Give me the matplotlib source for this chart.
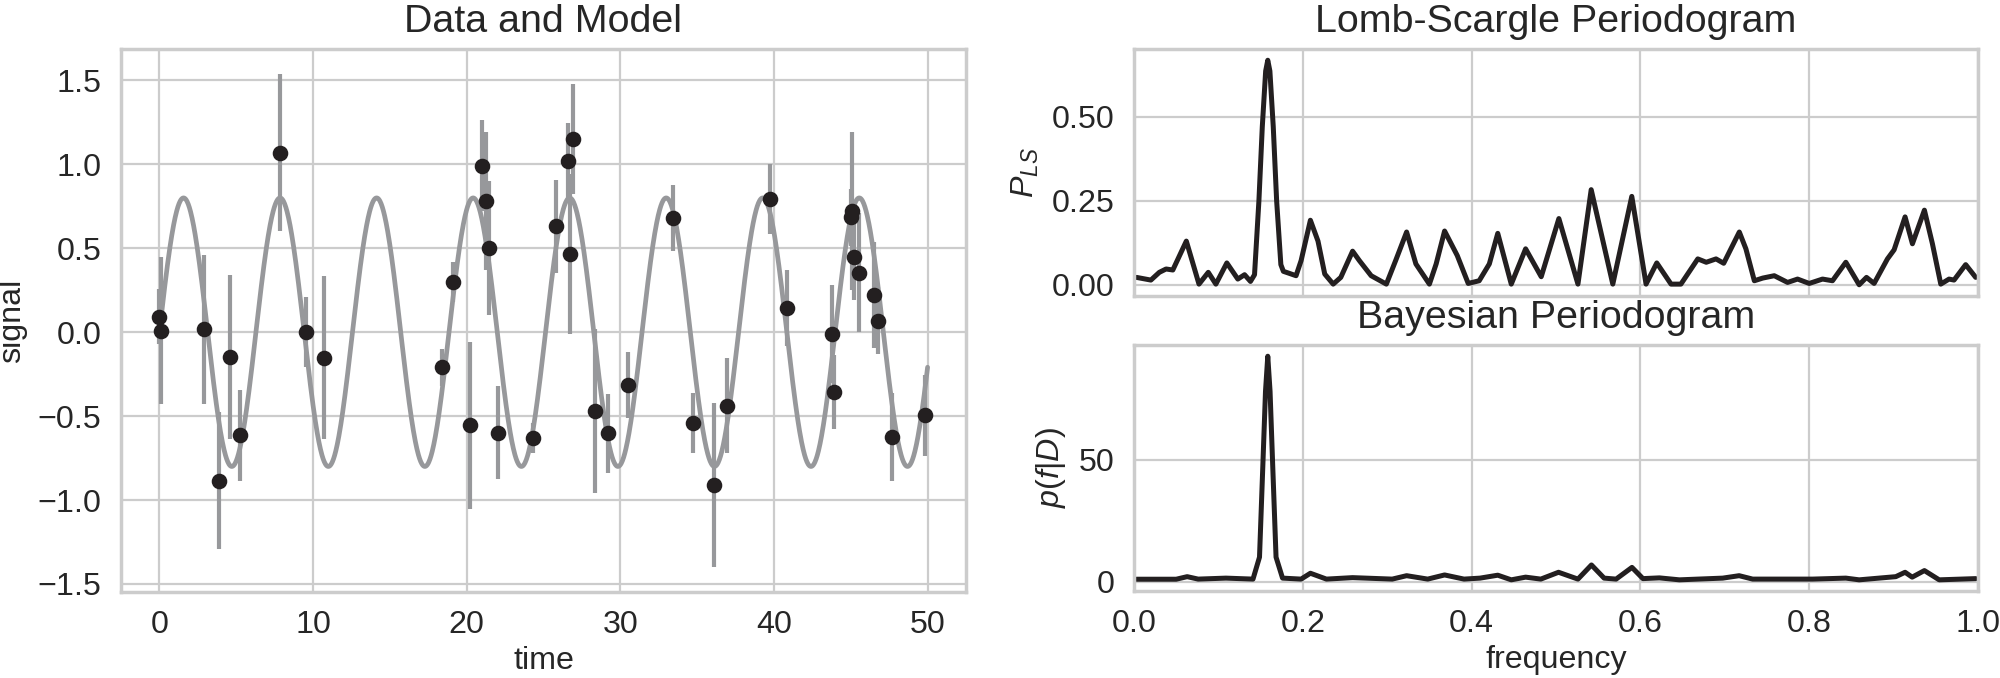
import numpy as np
import matplotlib
matplotlib.use("Agg")
import matplotlib.pyplot as plt
import seaborn as sns

sns.set_style("whitegrid")
plt.rcParams['font.family'] = ['Liberation Sans', 'DejaVu Sans']
plt.rcParams['mathtext.fontset'] = 'custom'
plt.rcParams['mathtext.rm'] = 'Liberation Sans'
plt.rcParams['mathtext.it'] = 'Liberation Sans:italic'

# ---------------- data ----------------
time = [0.0, 0.09, 2.91, 3.87, 4.59, 5.26, 7.83, 9.52, 10.74,
        18.37, 19.09, 20.22, 21.0, 21.26, 21.46, 22.02, 24.3,
        25.83, 26.61, 26.74, 26.89, 28.37, 29.2, 30.52, 33.43,
        34.7, 36.07, 36.96, 39.76, 40.85, 43.8, 43.88, 44.99,
        45.08, 45.23, 45.51, 46.49, 46.79, 47.68, 49.8]
signal = [0.093, 0.01, 0.017, -0.884, -0.148, -0.614, 1.070, 0.0, -0.151,
          -0.209, 0.30, -0.554, 0.992, 0.781, 0.502, -0.599, -0.632,
          0.630, 1.017, 0.465, 1.151, -0.471, -0.603, -0.316, 0.680,
          -0.541, -0.911, -0.438, 0.795, 0.145, -0.01, -0.355, 0.686,
          0.723, 0.45, 0.355, 0.221, 0.068, -0.624, -0.496]
signal_err = [0.165, 0.438, 0.445, 0.41, 0.49, 0.27, 0.47, 0.208, 0.486,
              0.11, 0.12, 0.498, 0.27, 0.41, 0.40, 0.277, 0.09,
              0.279, 0.23, 0.475, 0.33, 0.49, 0.235, 0.196, 0.196,
              0.178, 0.49, 0.284, 0.21, 0.228, 0.29, 0.22, 0.17,
              0.47, 0.26, 0.355, 0.315, 0.2, 0.263, 0.24]

# model curve parameters
model_amplitude = 0.8
model_period = 6.283
model_tmin, model_tmax = 0.0, 50.0

# Lomb-Scargle periodogram (read at peaks / troughs / flanks)
ls_freq = [0.003, 0.02, 0.03, 0.038, 0.046, 0.062, 0.077, 0.088, 0.097, 0.110,
           0.123, 0.131, 0.138, 0.1428, 0.148, 0.152, 0.156, 0.1585, 0.161, 0.165,
           0.169, 0.174, 0.177, 0.184,
           0.192, 0.198, 0.209, 0.218, 0.226, 0.236, 0.245, 0.259, 0.267, 0.281,
           0.299, 0.31, 0.323, 0.334, 0.35, 0.358, 0.368, 0.383, 0.396, 0.409,
           0.421, 0.431, 0.447, 0.464, 0.4825, 0.5034, 0.526, 0.5417, 0.5673, 0.5898,
           0.6067, 0.6194, 0.6363, 0.648, 0.668, 0.678, 0.6896, 0.6987, 0.7172, 0.725,
           0.735, 0.745, 0.7586, 0.7744, 0.7862, 0.800, 0.8158, 0.8276, 0.8434, 0.8592,
           0.8679, 0.8769, 0.8927, 0.9006, 0.9136, 0.9223, 0.9365, 0.946, 0.9559, 0.9657,
           0.9716, 0.9854, 0.9973]
ls_power = [0.022, 0.014, 0.037, 0.047, 0.044, 0.13, 0.002, 0.037, 0.002, 0.065,
            0.017, 0.030, 0.01, 0.03, 0.25, 0.47, 0.636, 0.668, 0.636, 0.47,
            0.25, 0.06, 0.04, 0.034,
            0.027, 0.072, 0.192, 0.13, 0.032, 0.002, 0.022, 0.10, 0.072, 0.027,
            0.002, 0.072, 0.157, 0.062, 0.002, 0.062, 0.16, 0.087, 0.004, 0.012,
            0.062, 0.153, 0.002, 0.107, 0.024, 0.197, 0.002, 0.283, 0.002, 0.263,
            0.002, 0.065, 0.002, 0.002, 0.077, 0.067, 0.077, 0.064, 0.157, 0.107,
            0.012, 0.02, 0.027, 0.007, 0.017, 0.004, 0.017, 0.012, 0.067, 0.0,
            0.022, 0.004, 0.077, 0.104, 0.202, 0.122, 0.222, 0.122, 0.002, 0.017,
            0.014, 0.06, 0.022]

# Bayesian periodogram
bayes_freq = [0.003, 0.05, 0.063, 0.076, 0.109, 0.141, 0.1487, 0.1527, 0.1558, 0.1585,
              0.1612, 0.1643, 0.1683, 0.176, 0.198, 0.209, 0.228, 0.259, 0.306, 0.323,
              0.348, 0.368, 0.391, 0.41, 0.431, 0.447, 0.464, 0.482, 0.503, 0.526,
              0.542, 0.557, 0.5712, 0.590, 0.603, 0.6225, 0.6462, 0.6975, 0.717, 0.733,
              0.804, 0.8434, 0.8592, 0.9026, 0.9136, 0.922, 0.9365, 0.954, 0.9973]
bayes_p = [0.95, 0.95, 2.0, 1.0, 1.4, 1.0, 10, 48, 78, 92.4,
           78, 48, 10, 1.4, 1.0, 3.4, 1.0, 1.6, 1.0, 2.4,
           1.0, 2.7, 1.0, 1.4, 2.6, 0.7, 1.8, 1.0, 3.8, 1.0,
           6.8, 1.4, 1.0, 5.8, 1.2, 1.5, 0.7, 1.4, 2.4, 1.0,
           1.0, 1.4, 0.7, 2.0, 3.8, 1.8, 4.5, 0.7, 1.2]

lsy_ticks = [0.0, 0.25, 0.5]
bayes_ticks = [0, 50]
freq_ticks = [0.0, 0.2, 0.4, 0.6, 0.8, 1.0]
time_ticks = [0, 10, 20, 30, 40, 50]
signal_ticks = [-1.5, -1.0, -0.5, 0.0, 0.5, 1.0, 1.5]

# ---------------- figure ----------------
fig = plt.figure(figsize=(10, 3.39), dpi=200)
fs = 11.6
fs_title = 14.2
text_color = '.15'
gray = '#97989b'
dark = '#231f20'

ax0 = fig.add_axes([0.0605, 0.1268, 0.4225, 0.8009])
tt = np.linspace(model_tmin, model_tmax, 2000)
ax0.errorbar(time, signal, signal_err, fmt='o', color=dark, ecolor=gray,
             ms=4.6, elinewidth=1.5, capsize=0, zorder=3)
ax0.plot(tt, model_amplitude * np.sin(2 * np.pi * tt / model_period),
         color=gray, lw=1.7, zorder=2)
ax0.set_title('Data and Model', fontsize=fs_title, color=text_color)
ax0.set_xlabel('time', fontsize=fs, color=text_color, labelpad=2)
ax0.set_ylabel('signal', fontsize=fs, color=text_color)
ax0.set_xticks(time_ticks)
ax0.set_yticks(signal_ticks)

ax1 = fig.add_axes([0.567, 0.5634, 0.422, 0.3643])
ax1.plot(ls_freq, ls_power, color=dark, lw=1.8, solid_joinstyle='round')
ax1.set_xlim(0, 1)
ax1.set_xticks(freq_ticks)
ax1.set_yticks(lsy_ticks)
ax1.set_yticklabels(['%.2f' % v for v in lsy_ticks])
ax1.tick_params(labelbottom=False)
ax1.set_title('Lomb-Scargle Periodogram', fontsize=fs_title, color=text_color)
ax1.set_ylabel(r'$P_{LS}$', fontsize=fs, color=text_color)

ax2 = fig.add_axes([0.567, 0.1283, 0.422, 0.3628])
ax2.plot(bayes_freq, bayes_p, color=dark, lw=1.8, solid_joinstyle='round')
ax2.set_xlim(0, 1)
ax2.set_xticks(freq_ticks)
ax2.set_xticklabels(['%.1f' % v for v in freq_ticks])
ax2.set_yticks(bayes_ticks)
ax2.set_title('Bayesian Periodogram', fontsize=fs_title, color=text_color)
ax2.set_ylabel(r'$p(f|D)$', fontsize=fs, color=text_color)
ax2.set_xlabel('frequency', fontsize=fs, color=text_color, labelpad=2)

for ax in (ax0, ax1, ax2):
    ax.tick_params(labelsize=fs, colors=text_color)
    ax.tick_params(axis='x', pad=3)
    for s in ax.spines.values():
        s.set_color('.8')
        s.set_linewidth(1.25)

fig.savefig('out.png', dpi=200)
